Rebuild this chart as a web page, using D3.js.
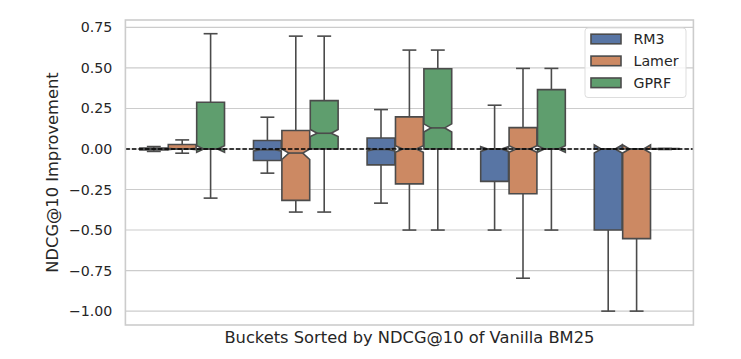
<!DOCTYPE html>
<html>
<head>
<meta charset="utf-8">
<script src="https://cdn.jsdelivr.net/npm/d3@7"></script>
<style>
  html, body { margin: 0; padding: 0; background: #ffffff; }
  svg { display: block; }
  text { font-family: "DejaVu Sans", sans-serif; fill: #262626; }
</style>
</head>
<body>
<svg id="chart" width="741" height="359"></svg>
<script>
// ---- data ----
const categories = ["Bucket 1", "Bucket 2", "Bucket 3", "Bucket 4", "Bucket 5"];
const seriesNames = ["RM3", "Lamer", "GPRF"];
const seriesColors = ["#5875a4", "#cc8963", "#5f9e6e"];
const yTicks = [0.75, 0.50, 0.25, 0.00, -0.25, -0.50, -0.75, -1.00];

const rm3WhisLo  = [-0.015, -0.149, -0.334, -0.50, -1.00];
const rm3Q1      = [-0.006, -0.071, -0.098, -0.20, -0.50];
const rm3Med     = [0.000, -0.005, -0.003, 0.000, 0.000];
const rm3Q3      = [0.006, 0.052, 0.068, 0.000, 0.000];
const rm3WhisHi  = [0.015, 0.196, 0.243, 0.270, 0.000];
const rm3NotchLo = [-0.004, -0.012, -0.012, -0.015, -0.025];
const rm3NotchHi = [0.004, 0.002, 0.006, 0.015, 0.025];

const lamerWhisLo  = [-0.026, -0.389, -0.500, -0.797, -1.000];
const lamerQ1      = [0.000, -0.317, -0.215, -0.276, -0.553];
const lamerMed     = [0.000, -0.025, 0.000, 0.000, 0.000];
const lamerQ3      = [0.028, 0.114, 0.198, 0.132, 0.000];
const lamerWhisHi  = [0.056, 0.696, 0.610, 0.497, 0.000];
const lamerNotchLo = [-0.004, -0.065, -0.020, -0.020, -0.025];
const lamerNotchHi = [0.004, 0.000, 0.020, 0.020, 0.025];

const gprfWhisLo  = [-0.303, -0.389, -0.500, -0.500, -0.003];
const gprfQ1      = [0.000, 0.000, 0.000, 0.000, -0.002];
const gprfMed     = [0.000, 0.097, 0.130, 0.000, 0.000];
const gprfQ3      = [0.288, 0.298, 0.495, 0.366, 0.002];
const gprfWhisHi  = [0.711, 0.696, 0.610, 0.497, 0.003];
const gprfNotchLo = [-0.020, 0.077, 0.105, -0.020, -0.001];
const gprfNotchHi = [0.020, 0.120, 0.155, 0.020, 0.001];

const stats = [
  {whislo: rm3WhisLo, q1: rm3Q1, med: rm3Med, q3: rm3Q3, whishi: rm3WhisHi, nlo: rm3NotchLo, nhi: rm3NotchHi},
  {whislo: lamerWhisLo, q1: lamerQ1, med: lamerMed, q3: lamerQ3, whishi: lamerWhisHi, nlo: lamerNotchLo, nhi: lamerNotchHi},
  {whislo: gprfWhisLo, q1: gprfQ1, med: gprfMed, q3: gprfQ3, whishi: gprfWhisHi, nlo: gprfNotchLo, nhi: gprfNotchHi}
];

// ---- layout ----
const W = 741, H = 359;
const margin = {left: 125.4, right: W - 693.4, top: 20, bottom: H - 325};
const svg = d3.select("#chart");
svg.append("rect").attr("width", W).attr("height", H).attr("fill", "#ffffff");

const x = d3.scaleBand().domain(categories).range([margin.left, W - margin.right]).paddingInner(0).paddingOuter(0);
const y = d3.scaleLinear().domain([-1.0855, 0.7955]).range([H - margin.bottom, margin.top]);
const hue = d3.scaleBand().domain(seriesNames).range([-0.375, 0.375]);

const gray = "#4b4b4b";
const lw = 1.6;

// grid
svg.append("g").selectAll("line").data(yTicks).join("line")
  .attr("x1", margin.left).attr("x2", W - margin.right)
  .attr("y1", d => y(d)).attr("y2", d => y(d))
  .attr("stroke", "#cccccc").attr("stroke-width", 1.1);

// y tick labels via axis
const yAxis = d3.axisLeft(y).tickValues(yTicks).tickSize(0).tickPadding(13)
  .tickFormat(d => d3.format(".2f")(d).replace("-", "\u2212"));
const ya = svg.append("g").attr("transform", `translate(${margin.left},0)`).call(yAxis);
ya.select(".domain").remove();
ya.selectAll("text").attr("font-size", "14.2px").attr("font-family", "DejaVu Sans, sans-serif").attr("fill", "#262626");

// boxes
const bw = x.bandwidth();
const boxW = hue.bandwidth() * bw * 0.98;
const line = d3.line();

seriesNames.forEach((name, si) => {
  const s = stats[si];
  const g = svg.append("g");
  categories.forEach((c, ci) => {
    const cx = x(c) + bw / 2 + (hue(name) + hue.bandwidth() / 2) * bw;
    const L = cx - boxW / 2, R = cx + boxW / 2, cL = cx - boxW / 4, cR = cx + boxW / 4;
    // whiskers
    g.append("line").attr("x1", cx).attr("x2", cx).attr("y1", y(s.q1[ci])).attr("y2", y(s.whislo[ci]))
      .attr("stroke", gray).attr("stroke-width", lw);
    g.append("line").attr("x1", cx).attr("x2", cx).attr("y1", y(s.q3[ci])).attr("y2", y(s.whishi[ci]))
      .attr("stroke", gray).attr("stroke-width", lw);
    // caps
    [s.whislo[ci], s.whishi[ci]].forEach(v => {
      g.append("line").attr("x1", cL).attr("x2", cR).attr("y1", y(v)).attr("y2", y(v))
        .attr("stroke", gray).attr("stroke-width", lw);
    });
    // notched box
    const pts = [
      [L, y(s.q1[ci])], [R, y(s.q1[ci])], [R, y(s.nlo[ci])], [cR, y(s.med[ci])], [R, y(s.nhi[ci])],
      [R, y(s.q3[ci])], [L, y(s.q3[ci])], [L, y(s.nhi[ci])], [cL, y(s.med[ci])], [L, y(s.nlo[ci])]
    ];
    g.append("path").attr("d", line(pts) + "Z")
      .attr("fill", seriesColors[si]).attr("stroke", gray).attr("stroke-width", lw)
      .attr("stroke-linejoin", "miter");
    // median
    g.append("line").attr("x1", cL).attr("x2", cR).attr("y1", y(s.med[ci])).attr("y2", y(s.med[ci]))
      .attr("stroke", gray).attr("stroke-width", lw);
  });
});

// zero reference line
svg.append("line")
  .attr("x1", margin.left).attr("x2", W - margin.right)
  .attr("y1", y(0)).attr("y2", y(0))
  .attr("stroke", "#000000").attr("stroke-width", 1.3).attr("stroke-dasharray", "4.5,2");

// spines
svg.append("rect")
  .attr("x", margin.left).attr("y", margin.top)
  .attr("width", W - margin.left - margin.right).attr("height", H - margin.top - margin.bottom)
  .attr("fill", "none").attr("stroke", "#cccccc").attr("stroke-width", 1.6);

// axis labels
svg.append("text")
  .attr("x", (margin.left + W - margin.right) / 2).attr("y", 342.5)
  .attr("text-anchor", "middle").attr("font-size", "16.3px")
  .text("Buckets Sorted by NDCG@10 of Vanilla BM25");
svg.append("text")
  .attr("transform", `translate(57.5,${(margin.top + H - margin.bottom) / 2}) rotate(-90)`)
  .attr("text-anchor", "middle").attr("font-size", "16.3px")
  .text("NDCG@10 Improvement");

// legend
const lg = svg.append("g").attr("transform", "translate(585,28)");
lg.append("rect").attr("width", 101).attr("height", 69.5).attr("rx", 3)
  .attr("fill", "#ffffff").attr("fill-opacity", 0.8).attr("stroke", "#dddddd").attr("stroke-width", 1);
seriesNames.forEach((name, i) => {
  const row = lg.append("g").attr("transform", `translate(0,${11 + i * 21.9})`);
  row.append("rect").attr("x", 6).attr("y", -4.8).attr("width", 30).attr("height", 9.6)
    .attr("fill", seriesColors[i]).attr("stroke", gray).attr("stroke-width", lw);
  row.append("text").attr("x", 48.5).attr("y", 0).attr("dy", "0.36em")
    .attr("font-size", "14.2px").text(name);
});
</script>
</body>
</html>
